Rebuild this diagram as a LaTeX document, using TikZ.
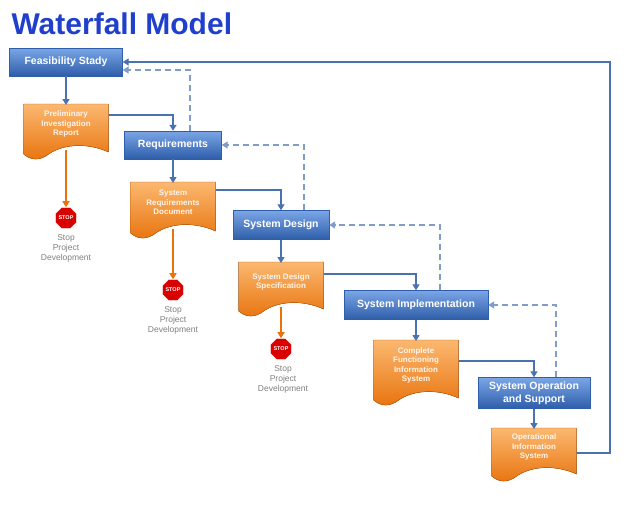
\documentclass[tikz,border=0pt]{standalone}
\usepackage{fontspec}
\setmainfont{Liberation Sans}
\usetikzlibrary{arrows.meta,shapes.geometric}
\definecolor{bluedark}{HTML}{2F5EAA}
\definecolor{bluelight}{HTML}{7AA6E6}
\definecolor{ordark}{HTML}{E8720C}
\definecolor{orlight}{HTML}{FBB870}
\definecolor{arr}{HTML}{4A72B0}
\definecolor{titleblue}{HTML}{1F3FCC}
\tikzset{
 box/.style={rectangle,draw=bluedark,top color=bluelight,bottom color=bluedark,text=white,font=\bfseries\fontsize{10.5}{12}\selectfont,inner sep=0pt,align=center},
 doc/.style={rectangle,inner sep=0pt,minimum width=85pt,align=center,text=white!92!orange,font=\bfseries\fontsize{8}{9.5}\selectfont},
 flow/.style={draw=arr,line width=1.3pt,-{Triangle[length=6pt,width=7pt]}},
 back/.style={draw=arr!70,line width=1.1pt,dashed,dash pattern=on 6pt off 4pt,-{Triangle[length=6pt,width=7pt]}},
 stopflow/.style={draw=ordark,line width=1.3pt,-{Triangle[length=6pt,width=7pt]}},
 stopsign/.style={regular polygon,regular polygon sides=8,fill=red!85!black,draw=white,line width=0.5pt,minimum size=22pt,inner sep=0pt,text=white,font=\bfseries\fontsize{5.5}{6}\selectfont},
 stoptxt/.style={text=gray,align=center,font=\fontsize{8.5}{10}\selectfont},
}
\newcommand{\wavedoc}[5]{% name, cx, top, bottom, text
 \fill[top color=orlight,bottom color=ordark,draw=ordark!80!black,line width=0.4pt]
   (#2-42.5,#3) -- (#2+42.5,#3) -- (#2+42.5,#4-4)
   .. controls (#2+20,#4-14) and (#2-5,#4-12) .. (#2-20,#4)
   .. controls (#2-30,#4+6) and (#2-38,#4+2) .. (#2-42.5,#4-2) -- cycle;
 \node[doc,minimum height=#4-#3-14pt,anchor=north] (#1) at (#2,#3+1) {#5};
 \coordinate (#1-bot) at (#2,#4-6);
}
\begin{document}
\begin{tikzpicture}[x=1pt,y=-1pt]
\useasboundingbox[fill=white] (0,0) rectangle (634,506);
\node[anchor=west,text=titleblue,font=\bfseries\fontsize{30}{32}\selectfont] (title) at (8,24) {Waterfall Model};

\node[box,minimum width=113pt,minimum height=28pt] (fs) at (66,62) {Feasibility Stady};
\node[box,minimum width=97pt,minimum height=28pt] (rq) at (173,145) {Requirements};
\node[box,minimum width=96pt,minimum height=29pt] (sd) at (281,225) {System Design};
\node[box,minimum width=144pt,minimum height=29pt] (si) at (416,305) {System Implementation};
\node[box,minimum width=112pt,minimum height=31pt,font=\bfseries\fontsize{10.5}{13}\selectfont] (so) at (534,393) {System Operation\\and Support};

\wavedoc{d1}{66}{104}{156}{Preliminary\\Investigation\\Report}
\wavedoc{d2}{173}{182}{235}{System\\Requirements\\Document}
\wavedoc{d3}{281}{262}{313}{System Design\\Specification}
\wavedoc{d4}{416}{340}{402}{Complete\\Functioning\\Information\\System}
\wavedoc{d5}{534}{428}{478}{Operational\\Information\\System}

\node[stopsign] (s1) at (66,218) {STOP};
\node[stopsign] (s2) at (173,290) {STOP};
\node[stopsign] (s3) at (281,349) {STOP};
\node[stoptxt,anchor=north] (t1) at (66,231) {Stop\\Project\\Development};
\node[stoptxt,anchor=north] (t2) at (173,303) {Stop\\Project\\Development};
\node[stoptxt,anchor=north] (t3) at (283,362) {Stop\\Project\\Development};

% down flows
\draw[flow] (fs) -- (d1);
\draw[flow] (rq) -- (d2);
\draw[flow] (sd) -- (d3);
\draw[flow] (si) -- (d4);
\draw[flow] (so) -- (d5);
% doc to next box
\draw[flow] (d1.east|-0,115) -| (rq.north);
\draw[flow] (d2.east|-0,190) -| (sd.north);
\draw[flow] (d3.east|-0,274) -| (si.north);
\draw[flow] (d4.east|-0,361) -| (so.north);
% stop flows
\draw[stopflow] (d1-bot) -- (s1);
\draw[stopflow] (d2-bot) -- (s2);
\draw[stopflow] (d3-bot) -- (s3);
% return
\coordinate (r1) at (610,453);
\coordinate (r2) at (610,62);
\draw[flow] (d5.east|-r1) -- (r1) -- (r2) -- (fs.east);
% dashed feedback
\draw[back] (rq.north-|190,0) |- (fs.east|-0,70);
\draw[back] (sd.north-|304,0) |- (rq.east);
\draw[back] (si.north-|440,0) |- (sd.east);
\draw[back] (so.north-|556,0) |- (si.east);
\end{tikzpicture}
\end{document}
